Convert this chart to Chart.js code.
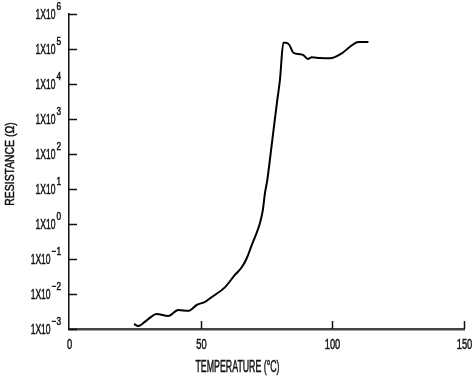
<!DOCTYPE html>
<html>
<head>
<meta charset="utf-8">
<script src="https://cdn.jsdelivr.net/npm/chart.js@4/dist/chart.umd.min.js"></script>
<style>
html,body{margin:0;padding:0;background:#fff;}
canvas{display:block;}
</style>
</head>
<body>
<canvas id="c" width="474" height="383"></canvas>
<script>
// ---- data ----
const temperatureC = [24.7, 26.3, 29.6, 33.3, 37.7, 41.5, 45.3, 48.5, 51.7, 54.8, 59.2, 63.0, 65.6, 67.5, 69.4, 70.6, 72.5, 73.6, 74.4, 75.3, 77.2, 79.1, 80.1, 81.4, 82.4, 83.7, 85.2, 87.7, 89.0, 90.7, 92.2, 95.3, 99.1, 103.6, 106.7, 109.9, 113.7];
const resistanceOhm = [1.39e-3, 1.22e-3, 1.8e-3, 2.7e-3, 2.35e-3, 3.5e-3, 3.3e-3, 4.85e-3, 6.0e-3, 8.8e-3, 1.55e-2, 3.5e-2, 5.8e-2, 0.105, 0.25, 0.42, 1.05, 2.5, 7.5, 18, 250, 3500, 1.3e4, 1.5e5, 1.5e5, 1.3e5, 7.8e4, 7.1e4, 6.7e4, 5.2e4, 5.8e4, 5.5e4, 5.4e4, 7.5e4, 1.16e5, 1.58e5, 1.58e5];
const xTickValues = [0, 50, 100, 150];
const yTickExponents = [-3, -2, -1, 0, 1, 2, 3, 4, 5, 6];
const xTitle = 'TEMPERATURE (°C)';
const yTitle = 'RESISTANCE (Ω)';

const points = temperatureC.map((t, i) => ({x: t, y: resistanceOhm[i]}));

function sup(n) { return n < 0 ? '\u2212' + Math.abs(n) : String(n); }

const FONT = '"Liberation Sans", Arial, sans-serif';

function drawScaledText(ctx, text, x, y, size, sx, align, baseline) {
  ctx.save();
  ctx.font = size + 'px ' + FONT;
  ctx.textBaseline = baseline || 'middle';
  const w = ctx.measureText(text).width * sx;
  let left = x;
  if (align === 'center') left = x - w / 2;
  else if (align === 'right') left = x - w;
  ctx.translate(left, y);
  ctx.scale(sx, 1);
  ctx.textAlign = 'left';
  ctx.lineWidth = 0.5;
  ctx.strokeStyle = ctx.fillStyle;
  ctx.fillText(text, 0, 0);
  ctx.strokeText(text, 0, 0);
  ctx.restore();
  return w;
}

const axisPlugin = {
  id: 'axisDecor',
  afterDraw(chart) {
    const ctx = chart.ctx;
    const xs = chart.scales.x, ys = chart.scales.y;
    const area = chart.chartArea;
    ctx.save();
    ctx.fillStyle = '#111';
    ctx.strokeStyle = '#111';
    ctx.lineWidth = 1.5;
    // y ticks (inward) and labels
    yTickExponents.forEach(e => {
      const py = Math.round(ys.getPixelForValue(Math.pow(10, e))) + 0.5;
      ctx.strokeStyle = '#111';
      ctx.lineWidth = 1.5;
      ctx.beginPath();
      ctx.moveTo(area.left, py);
      ctx.lineTo(area.left + 8, py);
      ctx.stroke();
      const expText = sup(e);
      ctx.font = '11px ' + FONT;
      const ew = ctx.measureText(expText).width * 0.75;
      const right = area.left - 8;
      drawScaledText(ctx, expText, right, py - 8, 11, 0.75, 'right');
      drawScaledText(ctx, '1X10', right - ew - 1, py + 0.5, 15, 0.57, 'right');
    });
    // x ticks (inward) and labels
    xTickValues.forEach(v => {
      const px = Math.round(xs.getPixelForValue(v)) + 0.5;
      if (v !== 0) {
        ctx.strokeStyle = '#111';
        ctx.lineWidth = 1.5;
        ctx.beginPath();
        ctx.moveTo(px, area.bottom);
        ctx.lineTo(px, area.bottom - 8);
        ctx.stroke();
      }
      drawScaledText(ctx, String(v), px, area.bottom + 16, 15, 0.62, 'center');
    });
    // axis titles
    drawScaledText(ctx, xTitle, 237.5, 368, 16, 0.55, 'center');
    ctx.save();
    ctx.translate(10.5, 164);
    ctx.rotate(-Math.PI / 2);
    drawScaledText(ctx, yTitle, 0, 0, 13, 0.8, 'center');
    ctx.restore();
    ctx.restore();
  }
};

new Chart(document.getElementById('c'), {
  type: 'line',
  data: {
    datasets: [{
      data: points,
      borderColor: '#000',
      borderWidth: 2,
      pointRadius: 0,
      cubicInterpolationMode: 'monotone',
      fill: false
    }]
  },
  options: {
    responsive: false,
    animation: false,
    devicePixelRatio: 1,
    layout: {padding: {left: 69, top: 14, right: 10, bottom: 54}},
    plugins: {legend: {display: false}, tooltip: {enabled: false}},
    scales: {
      x: {
        type: 'linear', min: 0, max: 150,
        ticks: {display: false},
        grid: {display: false, drawTicks: false},
        border: {display: true, color: '#444', width: 2.5}
      },
      y: {
        type: 'logarithmic', min: 1e-3, max: 1e6,
        ticks: {display: false},
        grid: {display: false, drawTicks: false},
        border: {display: true, color: '#111', width: 1.5}
      }
    }
  },
  plugins: [axisPlugin]
});
</script>
</body>
</html>
